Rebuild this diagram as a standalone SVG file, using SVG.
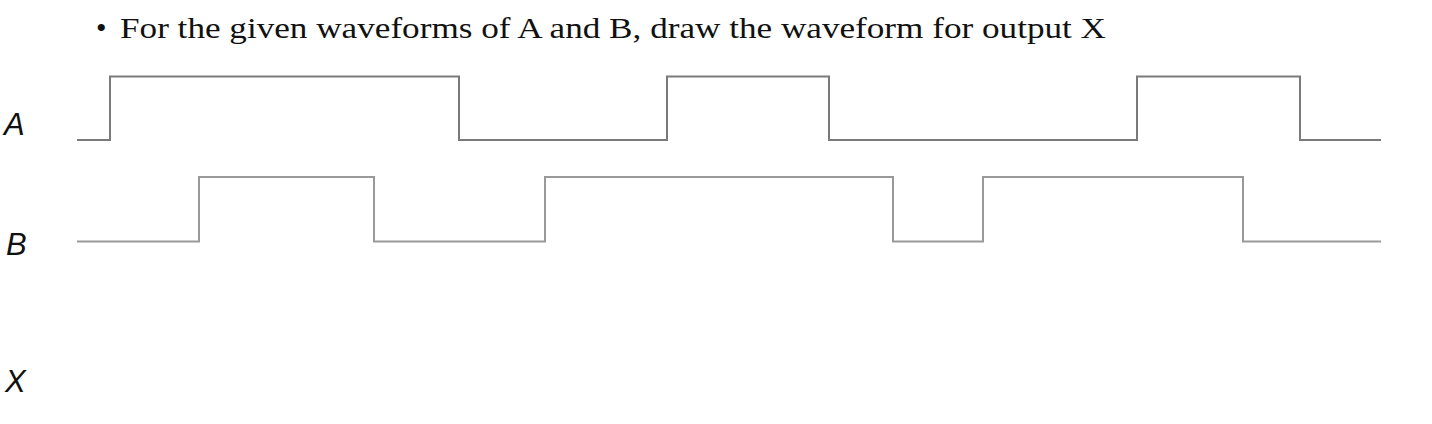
<svg xmlns="http://www.w3.org/2000/svg" width="1432" height="424" viewBox="0 0 1432 424">
<style>
.wave{fill:none;stroke-width:2;stroke-linejoin:miter}
#wave-A{stroke:#7a7a7a}
#wave-B{stroke:#999999}
.lbl{font-family:"Liberation Sans",Arial,sans-serif;font-style:italic;font-size:31px;fill:#111111}
.title{font-family:"Liberation Serif","Times New Roman",serif;font-size:30px;fill:#111111}
</style>
<rect width="1432" height="424" fill="#ffffff"/>
<g id="title">
<text class="title" x="96" y="38">•</text>
<text class="title" x="120" y="38" textLength="986" lengthAdjust="spacingAndGlyphs">For the given waveforms of A and B, draw the waveform for output X</text>
</g>
<g id="labels">
<text id="label-A" class="lbl" x="4" y="135">A</text>
<text id="label-B" class="lbl" x="6" y="255">B</text>
<text id="label-X" class="lbl" x="5" y="392">X</text>
</g>
<g id="waveforms">
<path id="wave-A" class="wave" d="M77,140 H110 V76.5 H459 V140 H667 V76.5 H829 V140 H1137 V76.5 H1300 V140 H1381"/>
<path id="wave-B" class="wave" d="M77,241.5 H199 V177 H374 V241.5 H545 V177 H893 V241.5 H983 V177 H1243 V241.5 H1381"/>
</g>
</svg>
